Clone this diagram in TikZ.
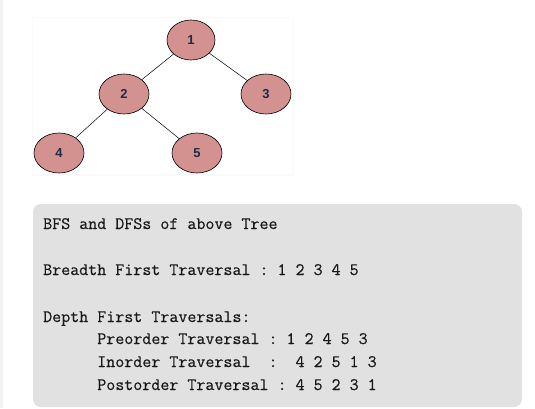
\documentclass[tikz,border=0pt]{standalone}
\usepackage{fontspec}
\setsansfont{Liberation Sans}
\setmonofont[FakeBold=0.4]{Latin Modern Mono}
\frenchspacing
\usetikzlibrary{shapes.geometric,positioning}

\definecolor{nodefill}{HTML}{D39290}
\definecolor{labelblue}{HTML}{1E2A48}
\definecolor{codebg}{HTML}{E1E1E1}
\definecolor{pagegray}{HTML}{F1F1F1}

\begin{document}
\begin{tikzpicture}[
  x=1pt, y=-1pt,
  vertex/.style={draw, ellipse, fill=nodefill, minimum width=50pt, minimum height=40pt,
                 inner sep=0pt, line width=.6pt,
                 font=\fontsize{13}{13}\sffamily\bfseries, text=labelblue},
  edge/.style={line width=.5pt},
  codeline/.style={anchor=base west, inner sep=0pt,
                   font=\fontsize{17.5}{17.5}\ttfamily, text=black!90},
]
  \useasboundingbox (0,0) rectangle (535,408);
  \fill[pagegray] (0,0) rectangle (3,408);

  % picture frame
  \fill[black!2] (32,17) rectangle (294,176);
  \fill[white] (33,18) rectangle (292,174);

  % tree
  \node[vertex, minimum width=48pt] (n1) at (191,40) {1};
  \node[vertex] (n2) at (124,94) {2};
  \node[vertex] (n3) at (266,94) {3};
  \node[vertex] (n4) at (59,153) {4};
  \node[vertex] (n5) at (197,153) {5};

  \draw[edge] (n1) -- (n2);
  \draw[edge] (n1) -- (n3);
  \draw[edge] (n2) -- (n4);
  \draw[edge] (n2) -- (n5);

  % output box
  \fill[codebg, rounded corners=8pt] (33,204) rectangle (522,407);
  \node[codeline] (title) at (43,229) {BFS and DFSs of above Tree};
  \node[codeline] (bfs)   at (43,275) {Breadth First Traversal : 1 2 3 4 5};
  \node[codeline] (dfs)   at (43,322) {Depth First Traversals:};
  \node[codeline] (pre)   at (43,344) {~~~~~~Preorder Traversal : 1 2 4 5 3};
  \node[codeline] (in)    at (43,367) {~~~~~~Inorder Traversal~~:~~4 2 5 1 3};
  \node[codeline] (post)  at (43,390) {~~~~~~Postorder Traversal : 4 5 2 3 1};
\end{tikzpicture}
\end{document}
